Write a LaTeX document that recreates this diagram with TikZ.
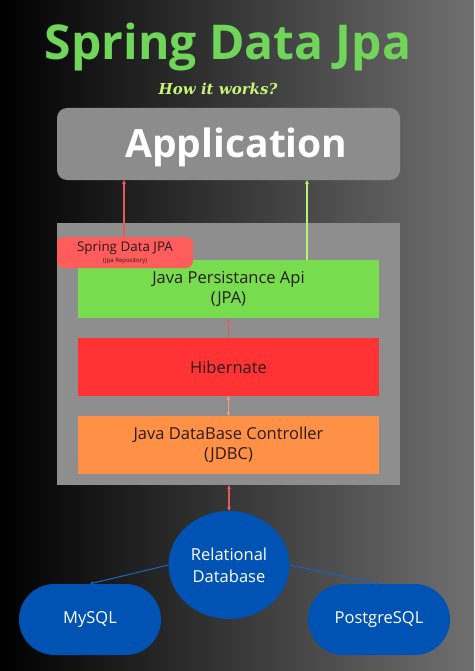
\documentclass[tikz,border=0pt]{standalone}
\usepackage{fontspec}
\setmainfont{Open Sans}
\newfontfamily\serifbi{DejaVu Serif}
\usetikzlibrary{arrows.meta,shapes.geometric,shapes.misc}
\definecolor{titlegreen}{HTML}{6FD65A}
\definecolor{howgreen}{HTML}{C8F27A}
\definecolor{panelgray}{HTML}{8E8E8E}
\definecolor{appgray}{HTML}{8C8C8C}
\definecolor{jpagreen}{HTML}{77DD4E}
\definecolor{hibred}{HTML}{FF3333}
\definecolor{jdbcorange}{HTML}{FF9147}
\definecolor{sdred}{HTML}{FF5C5C}
\definecolor{dbblue}{HTML}{0053B3}
\definecolor{darktext}{HTML}{2A1A1A}
\definecolor{bgright}{HTML}{707070}
\definecolor{bgmid}{HTML}{2C2C2C}
\definecolor{arrred}{HTML}{E85A5A}
\definecolor{arrgreen}{HTML}{B8F07A}
\definecolor{arrorange}{HTML}{F0A070}
\definecolor{linkblue}{HTML}{1F5FB5}
\tikzset{
  layer/.style={rectangle, minimum width=301pt, minimum height=58pt, inner sep=0pt, align=center, text=darktext, font=\fontsize{16.5}{20}\selectfont},
  blueshape/.style={fill=dbblue, text=white, align=center, font=\fontsize{16.5}{22}\selectfont},
  conn/.style={line width=1.1pt, -{Stealth[length=4pt,width=4pt]}},
  biconn/.style={line width=1.1pt, {Stealth[length=4pt,width=4pt]}-{Stealth[length=4pt,width=4pt]}}
}
\begin{document}
\begin{tikzpicture}[x=1pt,y=-1pt]
\shade[left color=black, middle color=bgmid, right color=bgright] (0,0) rectangle (474,671);
\useasboundingbox (0,0) rectangle (474,671);
% title
\node[text=titlegreen, font=\fontsize{48}{52}\selectfont\bfseries, inner sep=0pt] (title) at (228,47) {Spring Data Jpa};
\node[text=howgreen, font=\serifbi\fontsize{15}{17}\selectfont\bfseries\itshape, inner sep=0pt] (how) at (218,89) {How it works?};
% application
\node[rectangle, rounded corners=10pt, fill=appgray, minimum width=343pt, minimum height=72pt, inner sep=0pt] (app) at (228.5,144) {};
\node[text=white, font=\fontsize{39}{42}\selectfont\bfseries, inner sep=0pt] (apptext) at (236.5,147) {Application};
% panel
\node[rectangle, fill=panelgray, minimum width=343pt, minimum height=262pt, inner sep=0pt] (panel) at (228.5,354) {};
% layers
\node[layer, fill=jpagreen] (jpa) at (228.5,289) {Java Persistance Api\\(JPA)};
\node[layer, fill=hibred] (hib) at (228.5,367) {Hibernate};
\node[layer, fill=jdbcorange] (jdbc) at (228.5,445) {Java DataBase Controller\\(JDBC)};
% spring data jpa label
\node[rectangle, rounded corners=7pt, fill=sdred, minimum width=136pt, minimum height=31pt, inner sep=0pt, text=darktext, align=center] (sd) at (125,252.5) {{\fontsize{13.4}{14}\selectfont Spring Data JPA}\\[-1pt]{\fontsize{6}{7}\selectfont (Jpa Repository)}};
% database shapes
\node[ellipse, blueshape, minimum width=121pt, minimum height=108pt, inner sep=0pt] (db) at (229,565) {Relational\\Database};
\node[rounded rectangle, blueshape, minimum width=142pt, minimum height=71pt, inner sep=0pt] (mysql) at (90,619.5) {MySQL};
\node[rounded rectangle, blueshape, minimum width=142pt, minimum height=71pt, inner sep=0pt] (pg) at (379,619.5) {PostgreSQL};
% connectors
\draw[conn, arrred] (sd.north -| 124,0) -- (app.south -| 124,0);
\draw[conn, arrgreen] (jpa.north -| 307,0) -- (app.south -| 307,0);
\draw[conn, arrred] (hib.north) -- (jpa.south);
\draw[biconn, arrorange] (hib.south) -- (jdbc.north);
\draw[biconn, arrred] (panel.south -| db.north) -- (db.north);
\draw[conn, linkblue] (db.west) -- (mysql.north);
\draw[conn, linkblue] (db.east) -- (pg.north);
\end{tikzpicture}
\end{document}
